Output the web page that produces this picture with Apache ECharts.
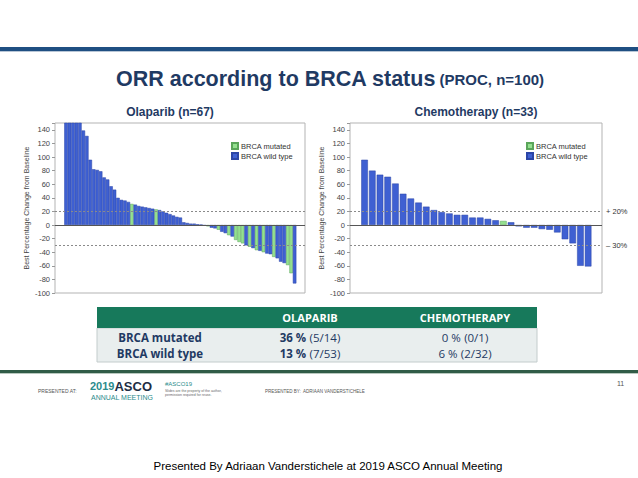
<!DOCTYPE html>
<html>
<head>
<meta charset="utf-8">
<title>ORR according to BRCA status</title>
<script src="https://cdn.jsdelivr.net/npm/echarts@6/dist/echarts.min.js"></script>
<style>
  html, body { margin: 0; padding: 0; background: #fff; }
  #main { width: 638px; height: 478px; }
</style>
</head>
<body>
<div id="main"></div>
<script>
// best % change from baseline, waterfall order (olaparib arm, n=67)
const olaparibChange = [
  230, 205, 185, 170, 158, 139, 131, 96, 82, 81,
  79, 70, 67, 57, 52, 40, 37, 36, 34, 31,
  30, 28, 27, 26, 25, 24, 23, 22, 20, 18,
  16, 14, 12, 11, 4, 3, 2, 2, 1, 0.5,
  -1, -2, -4, -5, -7, -10, -12, -15, -17, -22,
  -25, -27, -30, -32, -34, -37, -38, -40, -42, -43,
  -47, -49, -54, -56, -59, -71, -86
]
// bar positions (index) of the BRCA mutated patients
const olaparibMutated = [19, 26, 41, 44, 47, 49, 50, 51, 53, 55, 57, 60, 64, 65]

// chemotherapy arm
const chemoChange = [
  96, 80, 74, 71, 61, 46, 39, 33, 27, 22,
  19, 17, 15, 15, 11, 11, 9, 7, 6, 4,
  -2, -4, -4, -6, -7, -11, -21, -27, -60, -61
]
const chemoMutated = [18]

const refLines = [20, -30]
const refLabels = ['+ 20%', '\u2013 30%']

const tableCols = ['OLAPARIB', 'CHEMOTHERAPY']
const tableRows = ['BRCA mutated', 'BRCA wild type']
const tableRates = [['36 %', '0 %'], ['13 %', '6 %']]
const tableCounts = [['(5/14)', '(0/1)'], ['(7/53)', '(2/32)']]

const FONT = 'Liberation Sans, Arial, sans-serif'
const NAVY = '#1f3a63'
const BLUE = '#3f60d2'
const GREEN = '#94e08f'

function splitBars(values, mutatedIdx) {
  const mut = []
  const wild = []
  values.forEach(function (v, i) {
    if (mutatedIdx.indexOf(i) >= 0) mut.push([i, v])
    else wild.push([i, v])
  })
  return { mut: mut, wild: wild }
}

function yAxisFor(idx) {
  return {
    type: 'value',
    gridIndex: idx,
    min: -100,
    max: 150,
    interval: 20,
    name: 'Best Percentage Change from Baseline',
    nameLocation: 'middle',
    nameGap: 25,
    nameTextStyle: { fontSize: 7, color: '#444', fontFamily: FONT },
    axisLine: { show: false, onZero: false },
    axisTick: { show: true, length: 3, lineStyle: { color: '#999' } },
    splitLine: { show: false },
    axisLabel: {
      fontSize: 7.5,
      color: '#444',
      fontFamily: FONT,
      margin: 5,
      formatter: function (v) { return v % 20 === 0 ? String(v) : '' }
    }
  }
}

function refMarkLine(withLabels) {
  const data = refLines.map(function (v, k) {
    return {
      yAxis: v,
      lineStyle: { type: [2, 2], color: '#8a8a8a', width: 1 },
      label: {
        show: withLabels,
        position: 'end',
        distance: 4,
        formatter: refLabels[k],
        fontSize: 7.5,
        color: '#333',
        fontFamily: FONT
      }
    }
  })
  data.push({ yAxis: 0, lineStyle: { type: 'solid', color: '#555', width: 1 }, label: { show: false } })
  return { silent: true, symbol: 'none', animation: false, data: data }
}

const ola = splitBars(olaparibChange, olaparibMutated)
const chemo = splitBars(chemoChange, chemoMutated)

function barSeries(name, data, idx, width, color, border, markLine) {
  const s = {
    name: name,
    type: 'bar',
    xAxisIndex: idx,
    yAxisIndex: idx,
    data: data,
    barWidth: width,
    barGap: '-100%',
    itemStyle: { color: color, borderColor: border, borderWidth: 0.5 },
    animation: false
  }
  if (markLine) s.markLine = markLine
  return s
}

// table + slide decoration
const colX = [160, 310, 465]
const graphic = [
  { type: 'rect', shape: { x: 0, y: 47, width: 638, height: 4 }, style: { fill: '#1f4f82' } },
  { type: 'rect', shape: { x: 0, y: 51, width: 638, height: 1 }, style: { fill: '#b8c6d6' } },
  {
    type: 'text', x: 116, y: 79,
    style: {
      text: '{a|ORR according to BRCA status} {b|(PROC, n=100)}',
      verticalAlign: 'middle',
      rich: {
        a: { fontSize: 21.5, fontWeight: 'bold', fill: NAVY, fontFamily: FONT },
        b: { fontSize: 15, fontWeight: 'bold', fill: NAVY, fontFamily: FONT }
      }
    }
  },
  { type: 'text', x: 170, y: 112, style: { text: 'Olaparib (n=67)', align: 'center', verticalAlign: 'middle', font: 'bold 12px ' + FONT, fill: NAVY } },
  { type: 'text', x: 476, y: 112, style: { text: 'Chemotherapy (n=33)', align: 'center', verticalAlign: 'middle', font: 'bold 12px ' + FONT, fill: NAVY } },
  { type: 'rect', shape: { x: 97, y: 328, width: 440, height: 34 }, style: { fill: '#e9eeee', stroke: '#c3cccc', lineWidth: 1 } },
  { type: 'rect', shape: { x: 97, y: 307, width: 440, height: 21 }, style: { fill: '#17795b' } },
  // footer
  { type: 'rect', shape: { x: 0, y: 370, width: 638, height: 3 }, style: { fill: '#315c47' } },
  { type: 'rect', shape: { x: 0, y: 373, width: 638, height: 1 }, style: { fill: '#b9c9bf' } },
  { type: 'text', x: 38, y: 391, style: { text: 'PRESENTED AT:', verticalAlign: 'middle', font: '5px ' + FONT, fill: '#555' } },
  { type: 'text', x: 90, y: 386, style: { text: '{c|2019}{d|ASCO}', verticalAlign: 'middle', rich: { c: { fontSize: 11, fontWeight: 'bold', fill: '#2b8c8c', fontFamily: FONT }, d: { fontSize: 13, fontWeight: 'bold', fill: '#1d2d44', fontFamily: FONT } } } },
  { type: 'text', x: 91, y: 397, style: { text: 'ANNUAL MEETING', verticalAlign: 'middle', font: '7px ' + FONT, fill: '#2b8c8c' } },
  { type: 'text', x: 165, y: 384, style: { text: '#ASCO19', verticalAlign: 'middle', font: '6px ' + FONT, fill: '#2b8c8c' } },
  { type: 'text', x: 165, y: 391, style: { text: 'Slides are the property of the author,', verticalAlign: 'middle', font: '3.5px ' + FONT, fill: '#666' } },
  { type: 'text', x: 165, y: 395, style: { text: 'permission required for reuse.', verticalAlign: 'middle', font: '3.5px ' + FONT, fill: '#666' } },
  { type: 'text', x: 265, y: 391, style: { text: 'PRESENTED BY:  ADRIAAN VANDERSTICHELE', verticalAlign: 'middle', font: '4.5px ' + FONT, fill: '#555' } },
  { type: 'text', x: 617, y: 383, style: { text: '11', verticalAlign: 'middle', font: '7px ' + FONT, fill: '#555' } },
  { type: 'text', x: 328, y: 466, style: { text: 'Presented By Adriaan Vanderstichele at 2019 ASCO Annual Meeting', align: 'center', verticalAlign: 'middle', font: '11.5px ' + FONT, fill: '#000' } }
]
tableCols.forEach(function (c, j) {
  graphic.push({ type: 'text', x: colX[j + 1], y: 317.5, style: { text: c, align: 'center', verticalAlign: 'middle', font: 'bold 11px Open Sans, sans-serif', fill: '#fff' } })
})
tableRows.forEach(function (r, i) {
  const y = 337 + i * 16.5
  graphic.push({ type: 'text', x: colX[0], y: y, style: { text: r, align: 'center', verticalAlign: 'middle', font: 'bold 11.5px Open Sans, sans-serif', fill: NAVY } })
  tableRates[i].forEach(function (rate, j) {
    graphic.push({
      type: 'text', x: colX[j + 1], y: y,
      style: {
        text: '{r|' + rate + '} {n|' + tableCounts[i][j] + '}',
        align: 'center',
        verticalAlign: 'middle',
        rich: {
          r: { fontSize: 11.5, fontWeight: j === 0 ? 'bold' : 'normal', fill: NAVY, fontFamily: 'Open Sans, sans-serif' },
          n: { fontSize: 11.5, fill: NAVY, fontFamily: 'Open Sans, sans-serif' }
        }
      }
    })
  })
})

const legendBase = {
  data: ['BRCA mutated', 'BRCA wild type'],
  orient: 'vertical',
  top: 137,
  itemWidth: 6,
  itemHeight: 6,
  itemGap: 2,
  icon: 'rect',
  selectedMode: false,
  textStyle: { fontSize: 7.5, color: '#333', fontFamily: FONT, padding: [0, 0, 0, -2] }
}

const myChart = echarts.init(document.getElementById('main'), null, { renderer: 'svg' })
myChart.setOption({
  backgroundColor: '#fff',
  animation: false,
  legend: [
    Object.assign({}, legendBase, { left: 226 }),
    Object.assign({}, legendBase, { left: 521 })
  ],
  grid: [
    { left: 55, top: 123, width: 250, height: 170, show: true, borderColor: '#b3b3b3', borderWidth: 1 },
    { left: 350, top: 123, width: 252, height: 170, show: true, borderColor: '#b3b3b3', borderWidth: 1 }
  ],
  xAxis: [
    { type: 'value', gridIndex: 0, min: -3.18, max: 69.0, show: false },
    { type: 'value', gridIndex: 1, min: -1.89, max: 30.8, show: false }
  ],
  yAxis: [yAxisFor(0), yAxisFor(1)],
  series: [
    barSeries('BRCA mutated', ola.mut, 0, 3.5, GREEN, '#5aa55a'),
    barSeries('BRCA wild type', ola.wild, 0, 3.5, BLUE, '#2b45a6', refMarkLine(false)),
    barSeries('BRCA mutated', chemo.mut, 1, 6.6, GREEN, '#5aa55a'),
    barSeries('BRCA wild type', chemo.wild, 1, 6.6, BLUE, '#2b45a6', refMarkLine(true))
  ],
  graphic: graphic
})
</script>
</body>
</html>
